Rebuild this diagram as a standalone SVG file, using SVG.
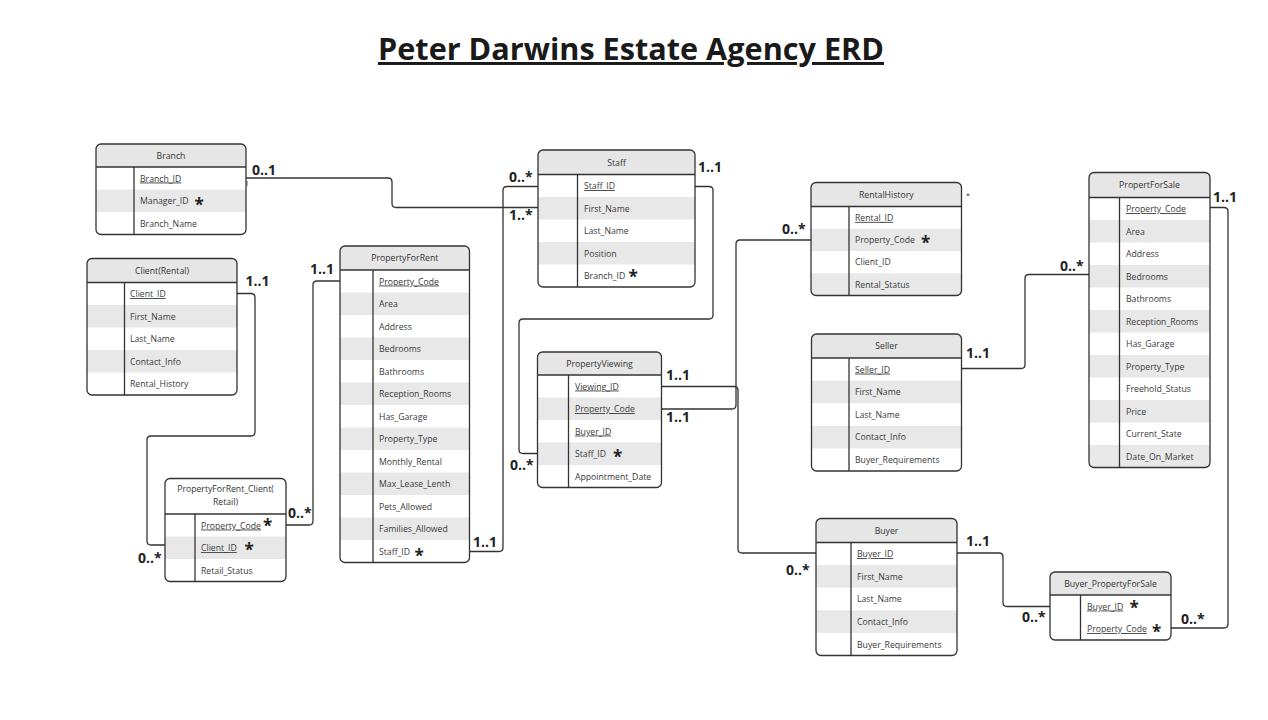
<svg xmlns="http://www.w3.org/2000/svg" width="1268" height="720" viewBox="0 0 1268 720">
<style>
.bg{fill:#fff}
.box{fill:none;stroke:#333;stroke-width:1.3}
.hdr{fill:#e6e6e6}
.alt{fill:#e8e8e8}
.sep{stroke:#333;stroke-width:1.6}
.dv{stroke:#333;stroke-width:1.3}
.ht{font-family:"Open Sans",sans-serif;font-size:8.7px;fill:#333;text-anchor:middle}
.at{font-family:"Open Sans",sans-serif;font-size:8.7px;fill:#3a3a3a}
.pk{text-decoration:underline}
.st{font-family:"Open Sans",sans-serif;font-weight:bold;font-size:17px;fill:#222}
.card{font-family:"Open Sans",sans-serif;font-weight:bold;font-size:14px;fill:#222}
.tiny{font-family:"Open Sans",sans-serif;font-size:7px;fill:#333}
.conn path{fill:none;stroke:#333;stroke-width:1.3}
.title{font-family:"Open Sans",sans-serif;font-weight:bold;font-size:29.5px;fill:#1a1a1a;text-anchor:middle;text-decoration:underline}
</style>
<rect width="1268" height="720" fill="#fff"/>
<text class="title" x="631" y="60" textLength="506" lengthAdjust="spacingAndGlyphs">Peter Darwins Estate Agency ERD</text>

<g class="conn" id="connectors">
<path d="M246,178 H388 Q392,178 392,182 V203.5 Q392,207.5 396,207.5 H538"/>
<path d="M538,186.5 H507 Q503,186.5 503,190.5 V547.5 Q503,551.5 499,551.5 H469.5"/>
<path d="M695,186.5 H709 Q713,186.5 713,190.5 V315 Q713,319 709,319 H523 Q519,319 519,323 V449.5 Q519,453.5 523,453.5 H537.5"/>
<path d="M661.5,409 H732 Q736,409 736,405 V244 Q736,240 740,240 H811"/>
<path d="M661.5,386.5 H734 Q738,386.5 738,390.5 V549 Q738,553 742,553 H816"/>
<path d="M961.5,368.5 H1021 Q1025,368.5 1025,364.5 V278.5 Q1025,274.5 1029,274.5 H1089"/>
<path d="M1210,207.5 H1224 Q1228,207.5 1228,211.5 V624 Q1228,628 1224,628 H1171"/>
<path d="M957,553 H999 Q1003,553 1003,557 V602.5 Q1003,606.5 1007,606.5 H1050"/>
<path d="M237,293.5 H251 Q255,293.5 255,297.5 V432 Q255,436 251,436 H151 Q147,436 147,440 V541 Q147,545 151,545 H165"/>
<path d="M340,281 H317 Q313,281 313,285 V521 Q313,525 309,525 H286"/>
</g>

<g id="cardinalities">
<text class="card" x="252" y="175">0..1</text>
<text class="tiny" x="245" y="186">1</text>
<text class="card" x="509" y="220">1..*</text>
<text class="card" x="509" y="182">0..*</text>
<text class="card" x="698" y="172">1..1</text>
<text class="card" x="473" y="547">1..1</text>
<text class="card" x="510" y="470">0..*</text>
<text class="card" x="666" y="380">1..1</text>
<text class="card" x="666" y="421.5">1..1</text>
<text class="card" x="782" y="234">0..*</text>
<text class="card" x="786" y="575">0..*</text>
<text class="card" x="966" y="358">1..1</text>
<text class="card" x="1060" y="271">0..*</text>
<text class="card" x="1213" y="202">1..1</text>
<text class="card" x="1181" y="624">0..*</text>
<text class="card" x="966" y="546">1..1</text>
<text class="card" x="1022" y="622">0..*</text>
<text class="card" x="245.5" y="285.5">1..1</text>
<text class="card" x="138" y="563">0..*</text>
<text class="card" x="310" y="274">1..1</text>
<text class="card" x="288" y="518">0..*</text>
<text class="tiny" x="966" y="198">*</text>
</g>

<g id="Branch">
<rect class="bg" x="96" y="144" width="150" height="90.5" rx="5"/>
<path class="hdr" d="M96,167 V149 Q96,144 101,144 H241 Q246,144 246,149 V167 Z"/>
<rect class="alt" x="96" y="189.5" width="150" height="22.5"/>
<rect class="box" x="96" y="144" width="150" height="90.5" rx="5"/>
<line class="sep" x1="96" y1="167" x2="246" y2="167"/>
<line class="dv" x1="134" y1="167" x2="134" y2="234.5"/>
<text class="ht" x="171" y="158.5">Branch</text>
<text class="at pk" x="140" y="181.5">Branch_ID</text>
<text class="at" x="140" y="204">Manager_ID</text>
<text class="st" x="194.5" y="211.2">*</text>
<text class="at" x="140" y="226.5">Branch_Name</text>
</g>

<g id="Staff">
<rect class="bg" x="538" y="150" width="157" height="137" rx="5"/>
<path class="hdr" d="M538,174.5 V155 Q538,150 543,150 H690 Q695,150 695,155 V174.5 Z"/>
<rect class="alt" x="538" y="197" width="157" height="22.5"/>
<rect class="alt" x="538" y="242" width="157" height="22.5"/>
<rect class="box" x="538" y="150" width="157" height="137" rx="5"/>
<line class="sep" x1="538" y1="174.5" x2="695" y2="174.5"/>
<line class="dv" x1="577.5" y1="174.5" x2="577.5" y2="287"/>
<text class="ht" x="616.5" y="165.5">Staff</text>
<text class="at pk" x="584" y="189">Staff_ID</text>
<text class="at" x="584" y="211.5">First_Name</text>
<text class="at" x="584" y="234">Last_Name</text>
<text class="at" x="584" y="256.5">Position</text>
<text class="at" x="584" y="279">Branch_ID</text>
<text class="st" x="628.5" y="283.2">*</text>
</g>

<g id="ClientRental">
<rect class="bg" x="87" y="258.5" width="150" height="136.5" rx="5"/>
<path class="hdr" d="M87,282.5 V263.5 Q87,258.5 92,258.5 H232 Q237,258.5 237,263.5 V282.5 Z"/>
<rect class="alt" x="87" y="305" width="150" height="22.5"/>
<rect class="alt" x="87" y="350" width="150" height="22.5"/>
<rect class="box" x="87" y="258.5" width="150" height="136.5" rx="5"/>
<line class="sep" x1="87" y1="282.5" x2="237" y2="282.5"/>
<line class="dv" x1="124.5" y1="282.5" x2="124.5" y2="395"/>
<text class="ht" x="162" y="273.5">Client(Rental)</text>
<text class="at pk" x="130" y="297">Client_ID</text>
<text class="at" x="130" y="319.5">First_Name</text>
<text class="at" x="130" y="342">Last_Name</text>
<text class="at" x="130" y="364.5">Contact_Info</text>
<text class="at" x="130" y="387">Rental_History</text>
</g>

<g id="PropertyForRent_Client">
<rect class="bg" x="165" y="478.5" width="121" height="103" rx="5"/>
<rect class="alt" x="165" y="536.5" width="121" height="22.5"/>
<rect class="box" x="165" y="478.5" width="121" height="103" rx="5"/>
<line class="sep" x1="165" y1="514" x2="286" y2="514"/>
<line class="dv" x1="195" y1="514" x2="195" y2="581.5"/>
<text class="ht" x="225.5" y="492.3">PropertyForRent_Client(</text>
<text class="ht" x="225.5" y="505.3">Retail)</text>
<text class="at pk" x="201" y="528.5">Property_Code</text>
<text class="st" x="263" y="531.7">*</text>
<text class="at pk" x="201" y="551">Client_ID</text>
<text class="st" x="244.5" y="556.2">*</text>
<text class="at" x="201" y="573.5">Retail_Status</text>
</g>

<g id="PropertyForRent">
<rect class="bg" x="340" y="246" width="129.5" height="316.5" rx="5"/>
<path class="hdr" d="M340,270 V251 Q340,246 345,246 H464.5 Q469.5,246 469.5,251 V270 Z"/>
<rect class="alt" x="340" y="292.5" width="129.5" height="22.5"/>
<rect class="alt" x="340" y="337.5" width="129.5" height="22.5"/>
<rect class="alt" x="340" y="382.5" width="129.5" height="22.5"/>
<rect class="alt" x="340" y="427.5" width="129.5" height="22.5"/>
<rect class="alt" x="340" y="472.5" width="129.5" height="22.5"/>
<rect class="alt" x="340" y="517.5" width="129.5" height="22.5"/>
<rect class="box" x="340" y="246" width="129.5" height="316.5" rx="5"/>
<line class="sep" x1="340" y1="270" x2="469.5" y2="270"/>
<line class="dv" x1="373" y1="270" x2="373" y2="562.5"/>
<text class="ht" x="404.75" y="261">PropertyForRent</text>
<text class="at pk" x="379" y="284.5">Property_Code</text>
<text class="at" x="379" y="307">Area</text>
<text class="at" x="379" y="329.5">Address</text>
<text class="at" x="379" y="352">Bedrooms</text>
<text class="at" x="379" y="374.5">Bathrooms</text>
<text class="at" x="379" y="397">Reception_Rooms</text>
<text class="at" x="379" y="419.5">Has_Garage</text>
<text class="at" x="379" y="442">Property_Type</text>
<text class="at" x="379" y="464.5">Monthly_Rental</text>
<text class="at" x="379" y="487">Max_Lease_Lenth</text>
<text class="at" x="379" y="509.5">Pets_Allowed</text>
<text class="at" x="379" y="532">Families_Allowed</text>
<text class="at" x="379" y="554.5">Staff_ID</text>
<text class="st" x="414.5" y="561.7">*</text>
</g>

<g id="PropertyViewing">
<rect class="bg" x="537.5" y="352" width="124" height="135.5" rx="5"/>
<path class="hdr" d="M537.5,375 V357 Q537.5,352 542.5,352 H656.5 Q661.5,352 661.5,357 V375 Z"/>
<rect class="alt" x="537.5" y="397.5" width="124" height="22.5"/>
<rect class="alt" x="537.5" y="442.5" width="124" height="22.5"/>
<rect class="box" x="537.5" y="352" width="124" height="135.5" rx="5"/>
<line class="sep" x1="537.5" y1="375" x2="661.5" y2="375"/>
<line class="dv" x1="568.5" y1="375" x2="568.5" y2="487.5"/>
<text class="ht" x="599.5" y="366.5">PropertyViewing</text>
<text class="at pk" x="575" y="389.5">Viewing_ID</text>
<text class="at pk" x="575" y="412">Property_Code</text>
<text class="at pk" x="575" y="434.5">Buyer_ID</text>
<text class="at" x="575" y="457">Staff_ID</text>
<text class="st" x="613" y="463.2">*</text>
<text class="at" x="575" y="479.5">Appointment_Date</text>
</g>

<g id="RentalHistory">
<rect class="bg" x="811" y="182.5" width="150.5" height="113" rx="5"/>
<path class="hdr" d="M811,206.5 V187.5 Q811,182.5 816,182.5 H956.5 Q961.5,182.5 961.5,187.5 V206.5 Z"/>
<rect class="alt" x="811" y="228.75" width="150.5" height="22.25"/>
<path class="alt" d="M811,273.25 H961.5 V290.5 Q961.5,295.5 956.5,295.5 H816 Q811,295.5 811,290.5 Z"/>
<rect class="box" x="811" y="182.5" width="150.5" height="113" rx="5"/>
<line class="sep" x1="811" y1="206.5" x2="961.5" y2="206.5"/>
<line class="dv" x1="849" y1="206.5" x2="849" y2="295.5"/>
<text class="ht" x="886.25" y="197.5">RentalHistory</text>
<text class="at pk" x="855" y="220.9">Rental_ID</text>
<text class="at" x="855" y="243.1">Property_Code</text>
<text class="st" x="921" y="249.2">*</text>
<text class="at" x="855" y="265.4">Client_ID</text>
<text class="at" x="855" y="287.6">Rental_Status</text>
</g>

<g id="Seller">
<rect class="bg" x="811.5" y="334" width="150" height="137" rx="5"/>
<path class="hdr" d="M811.5,358 V339 Q811.5,334 816.5,334 H956.5 Q961.5,334 961.5,339 V358 Z"/>
<rect class="alt" x="811.5" y="380.6" width="150" height="22.6"/>
<rect class="alt" x="811.5" y="425.8" width="150" height="22.6"/>
<rect class="box" x="811.5" y="334" width="150" height="137" rx="5"/>
<line class="sep" x1="811.5" y1="358" x2="961.5" y2="358"/>
<line class="dv" x1="849" y1="358" x2="849" y2="471"/>
<text class="ht" x="886.5" y="349">Seller</text>
<text class="at pk" x="855" y="372.6">Seller_ID</text>
<text class="at" x="855" y="395.2">First_Name</text>
<text class="at" x="855" y="417.8">Last_Name</text>
<text class="at" x="855" y="440.4">Contact_Info</text>
<text class="at" x="855" y="463">Buyer_Requirements</text>
</g>

<g id="PropertForSale">
<rect class="bg" x="1089" y="172.5" width="121" height="295" rx="5"/>
<path class="hdr" d="M1089,197.5 V177.5 Q1089,172.5 1094,172.5 H1205 Q1210,172.5 1210,177.5 V197.5 Z"/>
<rect class="alt" x="1089" y="220" width="121" height="22.5"/>
<rect class="alt" x="1089" y="265" width="121" height="22.5"/>
<rect class="alt" x="1089" y="310" width="121" height="22.5"/>
<rect class="alt" x="1089" y="355" width="121" height="22.5"/>
<rect class="alt" x="1089" y="400" width="121" height="22.5"/>
<path class="alt" d="M1089,445 H1210 V462.5 Q1210,467.5 1205,467.5 H1094 Q1089,467.5 1089,462.5 Z"/>
<rect class="box" x="1089" y="172.5" width="121" height="295" rx="5"/>
<line class="sep" x1="1089" y1="197.5" x2="1210" y2="197.5"/>
<line class="dv" x1="1119.5" y1="197.5" x2="1119.5" y2="467.5"/>
<text class="ht" x="1149.5" y="188">PropertForSale</text>
<text class="at pk" x="1126" y="212">Property_Code</text>
<text class="at" x="1126" y="234.5">Area</text>
<text class="at" x="1126" y="257">Address</text>
<text class="at" x="1126" y="279.5">Bedrooms</text>
<text class="at" x="1126" y="302">Bathrooms</text>
<text class="at" x="1126" y="324.5">Reception_Rooms</text>
<text class="at" x="1126" y="347">Has_Garage</text>
<text class="at" x="1126" y="369.5">Property_Type</text>
<text class="at" x="1126" y="392">Freehold_Status</text>
<text class="at" x="1126" y="414.5">Price</text>
<text class="at" x="1126" y="437">Current_State</text>
<text class="at" x="1126" y="459.5">Date_On_Market</text>
</g>

<g id="Buyer">
<rect class="bg" x="816" y="518.5" width="141" height="137" rx="5"/>
<path class="hdr" d="M816,542.5 V523.5 Q816,518.5 821,518.5 H952 Q957,518.5 957,523.5 V542.5 Z"/>
<rect class="alt" x="816" y="565.1" width="141" height="22.6"/>
<rect class="alt" x="816" y="610.3" width="141" height="22.6"/>
<rect class="box" x="816" y="518.5" width="141" height="137" rx="5"/>
<line class="sep" x1="816" y1="542.5" x2="957" y2="542.5"/>
<line class="dv" x1="851" y1="542.5" x2="851" y2="655.5"/>
<text class="ht" x="886.5" y="533.5">Buyer</text>
<text class="at pk" x="857" y="557.1">Buyer_ID</text>
<text class="at" x="857" y="579.7">First_Name</text>
<text class="at" x="857" y="602.3">Last_Name</text>
<text class="at" x="857" y="624.9">Contact_Info</text>
<text class="at" x="857" y="647.5">Buyer_Requirements</text>
</g>

<g id="Buyer_PropertyForSale">
<rect class="bg" x="1050" y="572" width="121" height="68" rx="5"/>
<path class="hdr" d="M1050,595 V577 Q1050,572 1055,572 H1166 Q1171,572 1171,577 V595 Z"/>
<rect class="box" x="1050" y="572" width="121" height="68" rx="5"/>
<line class="sep" x1="1050" y1="595" x2="1171" y2="595"/>
<line class="dv" x1="1080.5" y1="595" x2="1080.5" y2="640"/>
<text class="ht" x="1110.5" y="586.5">Buyer_PropertyForSale</text>
<text class="at pk" x="1087" y="609.5">Buyer_ID</text>
<text class="st" x="1129.5" y="614.2">*</text>
<text class="at pk" x="1087" y="632">Property_Code</text>
<text class="st" x="1152" y="637.7">*</text>
</g>
</svg>
